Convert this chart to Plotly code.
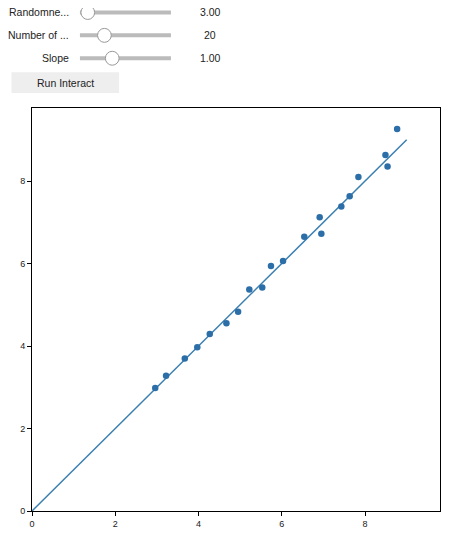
import plotly.graph_objects as go

x_vals = [2.96, 3.22, 3.67, 3.97, 4.27, 4.67, 4.95, 5.22, 5.53, 5.74, 6.03, 6.54, 6.91, 6.95, 7.43, 7.63, 7.84, 8.49, 8.54, 8.77]
y_vals = [2.98, 3.28, 3.70, 3.97, 4.29, 4.55, 4.83, 5.37, 5.42, 5.94, 6.06, 6.65, 7.12, 6.72, 7.38, 7.63, 8.10, 8.63, 8.35, 9.26]
line_x = [0, 9]
line_y = [0, 9]
slider_labels = ["Randomne...", "Number of ...", "Slope"]
slider_values = ["3.00", "20", "1.00"]
slider_knobs = [80, 97, 105]
tick_vals = [0, 2, 4, 6, 8]

OFF = 8  # page body margin
W, H = 474 - OFF, 541 - OFF
L, R, T, B = 23, 440, 108, 513
def px(x): return (x - L) / (R - L)
def py(y): return (B - y) / (B - T)

fig = go.Figure()
fig.add_trace(go.Scatter(x=line_x, y=line_y, mode="lines", line=dict(color="#3a7fb0", width=1.5), showlegend=False))
fig.add_trace(go.Scatter(x=x_vals, y=y_vals, mode="markers", marker=dict(color="#2c6fa8", size=6.5), showlegend=False))

shapes, annos = [], []
font = dict(family="Liberation Sans, Arial", size=10.5, color="#222")
for i, (lab, val, kx) in enumerate(zip(slider_labels, slider_values, slider_knobs)):
    yy = 12 + 23 * i
    shapes.append(dict(type="line", xref="paper", yref="paper", x0=px(72), x1=px(165), y0=py(yy), y1=py(yy),
                       line=dict(color="#bbbbbb", width=4)))
    shapes.append(dict(type="circle", xref="paper", yref="paper", x0=px(kx - 7), x1=px(kx + 7), y0=py(yy + 7), y1=py(yy - 7),
                       fillcolor="white", line=dict(color="#999", width=1)))
    annos.append(dict(xref="paper", yref="paper", x=px(63), y=py(yy), text=lab, showarrow=False, xanchor="right", yanchor="middle", font=font))
    annos.append(dict(xref="paper", yref="paper", x=px(205), y=py(yy), text=val, showarrow=False, xanchor="center", yanchor="middle", font=font))
shapes.append(dict(type="rect", xref="paper", yref="paper", x0=px(2), x1=px(112), y0=py(93), y1=py(72),
                   fillcolor="#eeeeee", line=dict(width=0)))
annos.append(dict(xref="paper", yref="paper", x=px(57), y=py(82.5), text="Run Interact", showarrow=False, xanchor="center", yanchor="middle", font=font))

axis = dict(range=[0, 9.8], tickvals=tick_vals, ticks="outside", ticklen=4, tickcolor="black",
            showline=True, linecolor="black", linewidth=1, mirror=True, showgrid=False, zeroline=False,
            tickfont=dict(family="Liberation Sans, Arial", size=9, color="#222"))
fig.update_layout(width=W, height=H, margin=dict(l=L - OFF, r=W - (R - OFF), t=T - OFF, b=H - (B - OFF)),
                  plot_bgcolor="white", paper_bgcolor="white",
                  xaxis=axis, yaxis=dict(axis, range=[0, 9.77]), shapes=shapes, annotations=annos)
fig.write_html("out.html")
